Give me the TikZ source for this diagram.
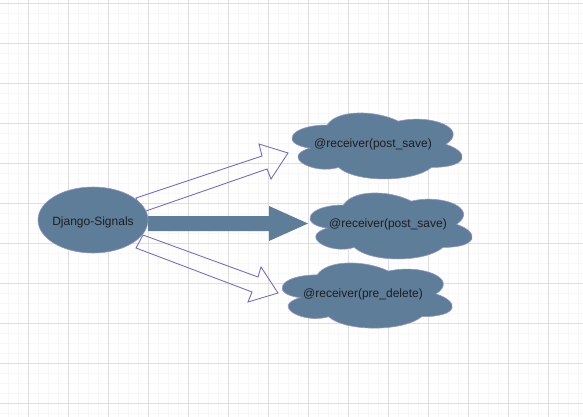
\documentclass[tikz,border=0pt]{standalone}
\usepackage{fontspec}
\setmainfont{Liberation Sans}
\usetikzlibrary{shapes.geometric}
\definecolor{shapefill}{RGB}{94,125,153}
\definecolor{shapeline}{RGB}{150,150,200}
\definecolor{arrline}{RGB}{115,104,190}
\definecolor{gridmajor}{RGB}{222,222,222}
\definecolor{gridminor}{RGB}{247,247,247}
\definecolor{txt}{RGB}{30,30,30}
\tikzset{
  lbl/.style={font=\fontsize{12}{14}\selectfont, text=txt, inner sep=0pt},
  shapestyle/.style={fill=shapefill, draw=shapeline, line width=0.6pt},
  hollowarrow/.style={draw=arrline, line width=0.85pt, line join=miter},
}
\newcommand\mycloud[4]{%
  \begin{scope}[shift={(#1,#2)},x=#3pt,y=-#4pt]
  \path[shapestyle] (0.25,0.25) .. controls (0.05,0.25) and (0,0.5) .. (0.16,0.55)
    .. controls (0,0.66) and (0.18,0.9) .. (0.31,0.8)
    .. controls (0.4,1) and (0.7,1) .. (0.8,0.8)
    .. controls (1,0.8) and (1,0.6) .. (0.875,0.5)
    .. controls (1,0.3) and (0.8,0.1) .. (0.625,0.2)
    .. controls (0.5,0.05) and (0.3,0.05) .. (0.25,0.25) -- cycle;
  \end{scope}}
\begin{document}
\begin{tikzpicture}[x=1pt,y=-1pt]
\useasboundingbox (0,0) rectangle (583,417);
\fill[white] (0,0) rectangle (583,417);
% minor grid
\foreach \i in {0,...,58} {\draw[gridminor, line width=0.6pt] (8+10*\i,0) -- (8+10*\i,417);}
\foreach \j in {0,...,41} {\draw[gridminor, line width=0.6pt] (0,3+10*\j) -- (583,3+10*\j);}
% major grid
\foreach \i in {0,...,14} {\draw[gridmajor, line width=0.8pt] (28+40*\i,0) -- (28+40*\i,417);}
\foreach \j in {0,...,10} {\draw[gridmajor, line width=0.8pt] (0,3+40*\j) -- (583,3+40*\j);}

% hollow arrows
\draw[hollowarrow] (143,212) -- (267,169) -- (271,179) -- (288,153) -- (259,144) -- (262,156) -- (136,198) -- cycle;
\draw[hollowarrow] (143,235) -- (258,277) -- (261,267) -- (278,293) -- (248,302) -- (252,292) -- (136,248) -- cycle;
% solid arrow
\fill[shapefill] (148,216) -- (269,216) -- (269,206) -- (308,223.5) -- (269,241) -- (269,231) -- (148,231) -- cycle;

% source ellipse
\node[shapestyle, ellipse, minimum width=110pt, minimum height=66pt, inner sep=0pt] (src) at (93,220) {};
\node[lbl] (srct) at (93,222) {Django-Signals};

% clouds
\mycloud{279.6}{105.8}{190}{77}
\node[lbl] (c1) at (373,144) {@receiver(post\_save)};
\mycloud{298.2}{185.8}{181}{77}
\node[lbl] (c2) at (388,224) {@receiver(post\_save)};
\mycloud{269.7}{255.9}{190}{76}
\node[lbl] (c3) at (363,294) {@receiver(pre\_delete)};
\end{tikzpicture}
\end{document}
